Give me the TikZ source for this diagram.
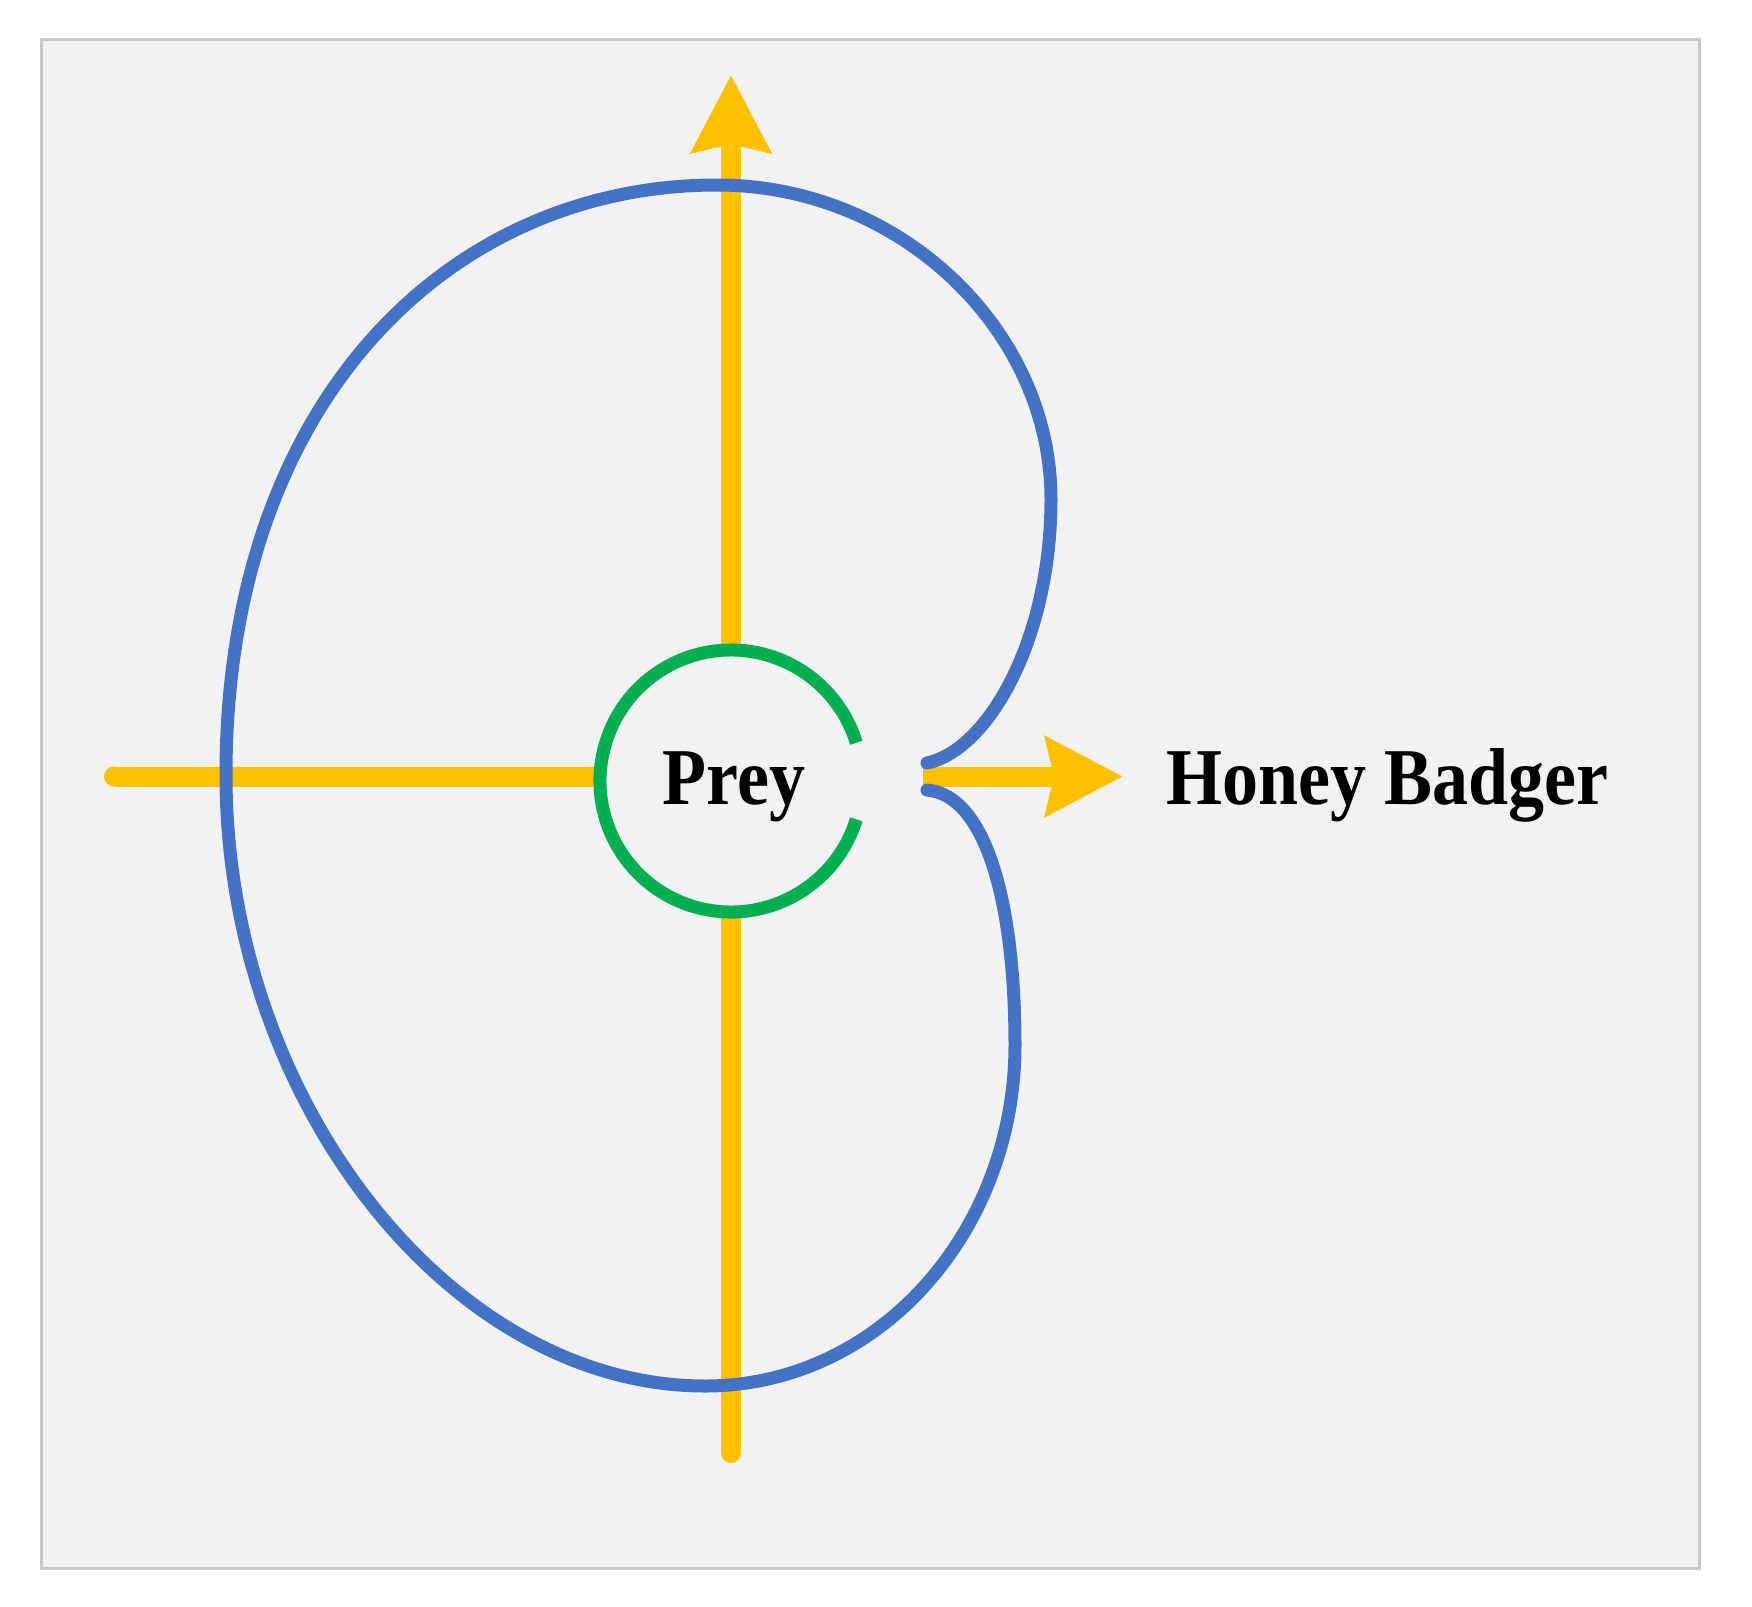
\documentclass[tikz,border=0pt]{standalone}
\usepackage{fontspec}
\setmainfont{Liberation Serif}
\usetikzlibrary{arrows.meta}
\definecolor{bgfill}{HTML}{F2F2F2}
\definecolor{bgline}{HTML}{C8C8C8}
\definecolor{axisyellow}{HTML}{FFC000}
\definecolor{curveblue}{HTML}{4472C4}
\definecolor{preygreen}{HTML}{00B050}
\tikzset{
  axisline/.style={draw=axisyellow, line width=10pt},
  axisarrow/.style={axisline, -{Stealth[length=38.5pt,width=39pt,inset=4pt]}},
  bluecurve/.style={draw=curveblue, line width=6.5pt, line cap=round, line join=round},
  greenring/.style={draw=preygreen, line width=6.5pt},
  labeltext/.style={inner sep=0pt, anchor=base west, font=\fontsize{36pt}{40pt}\selectfont\bfseries}
}
\begin{document}
\begin{tikzpicture}[x=0.5pt, y=-0.5pt]
\useasboundingbox (0,0) rectangle (1752,1607);
% frame
\draw[fill=bgfill, draw=bgline, line width=1.5pt] (41.5,39.5) rectangle (1699.5,1568);
% coordinates
\coordinate (c) at (731,781);
\coordinate (lstart) at (114,776.5);
\coordinate (lend) at (600,776.5);
\coordinate (rstart) at (923,776.5);
\coordinate (rtip) at (1123,776.5);
\coordinate (tstart) at (731,650);
\coordinate (ttip) at (731,75);
\coordinate (bstart) at (731,912);
\coordinate (bend) at (731,1453);
% axes
\draw[axisline] (lstart) -- (lend);
\fill[axisyellow] (lstart) circle (10);
\draw[axisline] (bstart) -- (bend);
\fill[axisyellow] (bend) circle (10);
\draw[axisarrow] (tstart) -- (ttip);
\draw[axisarrow] (rstart) -- (rtip);
% blue curve
\coordinate (cuspT) at (927,763);
\coordinate (rightT) at (1051,499);
\coordinate (topP) at (717,185);
\coordinate (leftP) at (226,775);
\coordinate (botP) at (705,1386);
\coordinate (rightB) at (1015,1045);
\coordinate (cuspB) at (927,790);
\draw[bluecurve] (cuspT)
  .. controls (988,750) and (1051,640) .. (rightT)
  .. controls (1051,330) and (900,185) .. (topP)
  .. controls (450,185) and (226,400) .. (leftP)
  .. controls (226,1100) and (450,1386) .. (botP)
  .. controls (880,1386) and (1015,1230) .. (rightB)
  .. controls (1015,900) and (985,795) .. (cuspB);
% prey ring
\draw[greenring] (c) ++(17:131) arc[start angle=17, end angle=343, radius=131];
% labels
\node[labeltext] (prey) at (662,804) {\scalebox{1}[1.12]{Prey}};
\node[labeltext] (hb) at (1166.5,804) {\scalebox{1}[1.12]{Honey Badger}};
\end{tikzpicture}
\end{document}
